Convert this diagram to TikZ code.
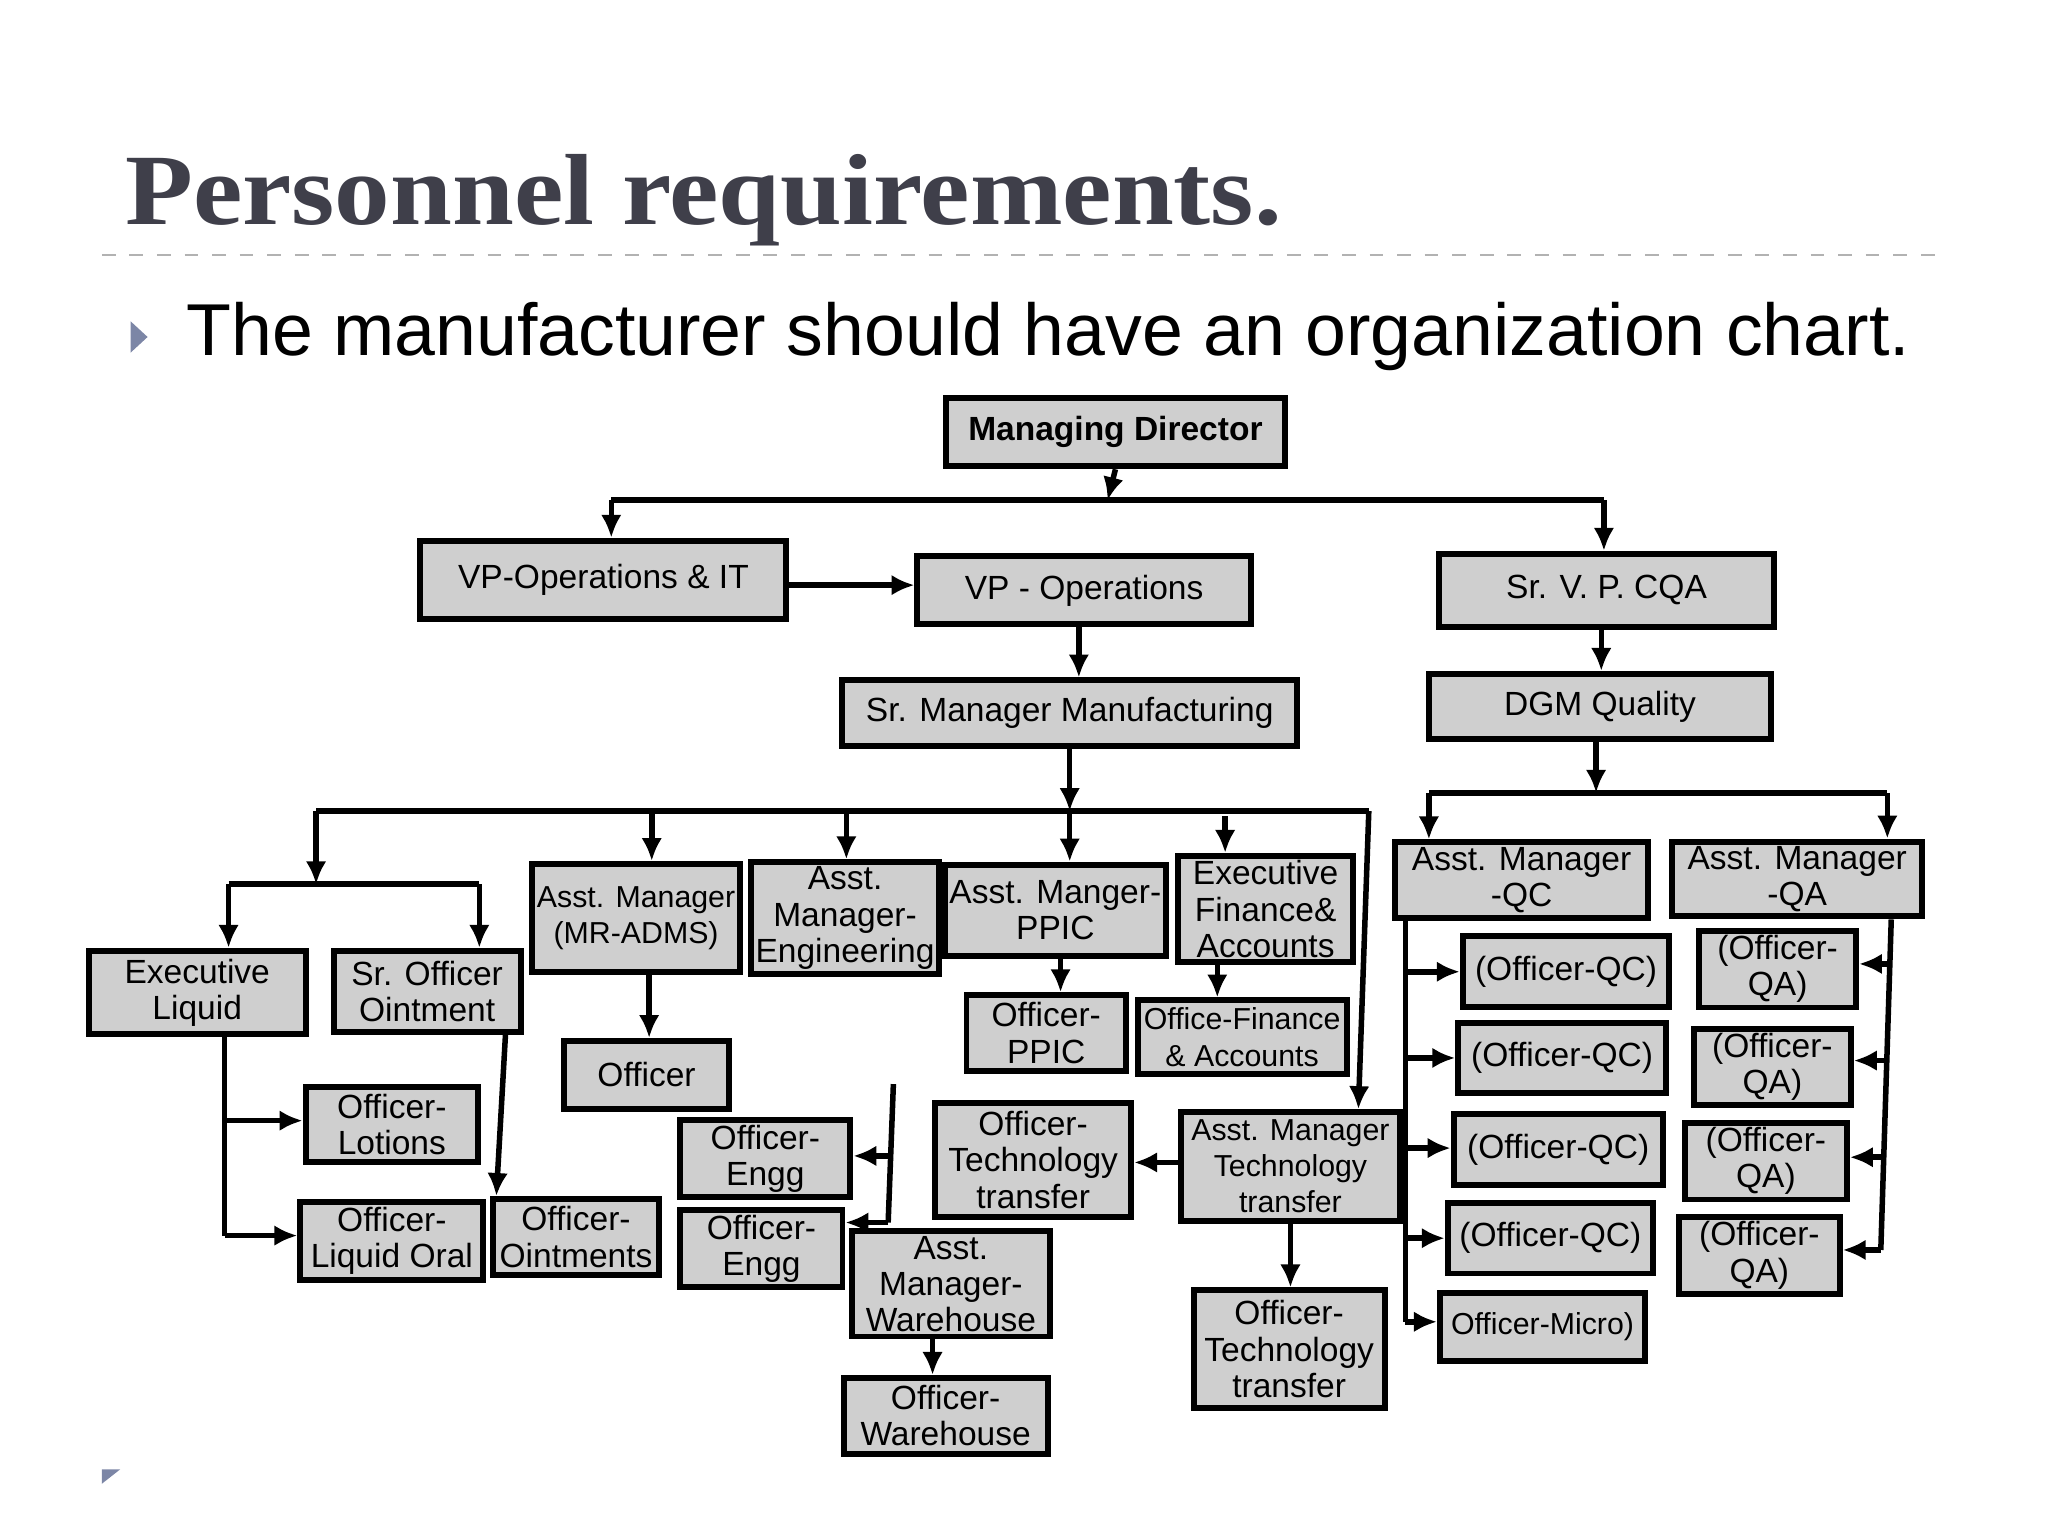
\documentclass[tikz,border=0pt]{standalone}
\usepackage{fontspec}
\setmainfont{Liberation Sans}
\newfontfamily\titlefont{Liberation Serif}
\usetikzlibrary{arrows.meta}
\definecolor{boxg}{HTML}{CFCFCF}
\definecolor{titleg}{HTML}{3F3F4A}
\definecolor{bul}{HTML}{7C86A6}
\tikzset{
 bx/.style={draw, line width=1.3pt, fill=boxg, align=center, font=\fontsize{7.3}{7.9}\selectfont, inner sep=1pt},
 ln/.style={line width=1.2pt},
 ar/.style={line width=1.2pt, -{Latex[length=5pt,width=4.5pt]}},
}
\newcommand{\sm}{\fontsize{6.6}{7.2}\selectfont}
\begin{document}
\begin{tikzpicture}[x=0.01cm,y=-0.01cm]
\useasboundingbox (0,0) rectangle (1568,1176);
\node[anchor=base west, font=\titlefont\bfseries\fontsize{22}{24}\selectfont, text=titleg, inner sep=0, xscale=1.1] (title) at (95,172) {Personnel requirements.};
\draw[dashed, gray!60, line width=0.5pt] (78,195) -- (1490,195);
\fill[bul] (100,246) -- (113,258) -- (100,270) -- cycle;
\node[anchor=base west, font=\fontsize{16}{17}\selectfont, inner sep=0] (sub) at (142,272) {The manufacturer should have an organization chart.};
\fill[bul] (78,1125) -- (92,1125) -- (78,1136) -- cycle;

\node[bx, minimum width=2.6cm, minimum height=0.52cm] (md) at (854,331) {\bfseries Managing Director};
\node[bx, minimum width=2.8cm, minimum height=0.6cm] (vpit) at (462,444) {VP-Operations \& IT};
\node[bx, minimum width=2.55cm, minimum height=0.52cm] (vpo) at (830,452) {VP - Operations};
\node[bx, minimum width=2.56cm, minimum height=0.56cm] (srvp) at (1230,452) {Sr. V. P. CQA};
\node[bx, minimum width=3.48cm, minimum height=0.5cm] (srm) at (819,546) {Sr. Manager Manufacturing};
\node[bx, minimum width=2.62cm, minimum height=0.5cm] (dgm) at (1225,541) {DGM Quality};

\node[bx, minimum width=1.66cm, minimum height=0.64cm] (exl) at (151,760) {Executive\\Liquid};
\node[bx, minimum width=1.43cm, minimum height=0.62cm] (sro) at (327,759) {Sr. Officer\\Ointment};
\node[bx, minimum width=1.58cm, minimum height=0.83cm] (amr) at (487,703) {\sm Asst. Manager\\\sm (MR-ADMS)};
\node[bx, minimum width=1.39cm, minimum height=0.83cm] (ame) at (647,703) {Asst.\\Manager-\\Engineering};
\node[bx, minimum width=1.64cm, minimum height=0.7cm] (amp) at (808,697) {Asst. Manger-\\PPIC};
\node[bx, minimum width=1.34cm, minimum height=0.72cm] (exf) at (969,696) {Executive\\Finance\&\\Accounts};
\node[bx, minimum width=1.26cm, minimum height=0.52cm] (off) at (495,823) {Officer};
\node[bx, minimum width=1.22cm, minimum height=0.58cm] (offp) at (801,791) {Officer-\\PPIC};
\node[bx, minimum width=1.6cm, minimum height=0.56cm] (offf) at (951,794) {\sm Office-Finance\\\sm\& Accounts};
\node[bx, minimum width=1.32cm, minimum height=0.58cm] (offl) at (300,861) {Officer-\\Lotions};
\node[bx, minimum width=1.4cm, minimum height=0.6cm] (offlo) at (300,950) {Officer-\\Liquid Oral};
\node[bx, minimum width=1.27cm, minimum height=0.58cm] (offo) at (441,947) {Officer-\\Ointments};
\node[bx, minimum width=1.3cm, minimum height=0.58cm] (oe1) at (586,887) {Officer-\\Engg};
\node[bx, minimum width=1.24cm, minimum height=0.56cm] (oe2) at (583,956) {Officer-\\Engg};
\node[bx, minimum width=1.52cm, minimum height=0.78cm] (amw) at (728,983) {Asst.\\Manager-\\Warehouse};
\node[bx, minimum width=1.56cm, minimum height=0.58cm] (ow) at (724,1084) {Officer-\\Warehouse};
\node[bx, minimum width=1.5cm, minimum height=0.87cm] (ott1) at (791,888) {Officer-\\Technology\\transfer};
\node[bx, minimum width=1.67cm, minimum height=0.83cm] (amt) at (988,893) {\sm Asst. Manager\\\sm Technology\\\sm transfer};
\node[bx, minimum width=1.46cm, minimum height=0.9cm] (ott2) at (987,1033) {Officer-\\Technology\\transfer};

\node[bx, minimum width=1.94cm, minimum height=0.58cm] (amqc) at (1165,674) {Asst. Manager\\-QC};
\node[bx, minimum width=1.91cm, minimum height=0.56cm] (amqa) at (1376,673) {Asst. Manager\\-QA};
\node[bx, minimum width=1.58cm, minimum height=0.54cm] (qc1) at (1199,744) {(Officer-QC)};
\node[bx, minimum width=1.59cm, minimum height=0.54cm] (qc2) at (1196,810) {(Officer-QC)};
\node[bx, minimum width=1.6cm, minimum height=0.54cm] (qc3) at (1193,880) {(Officer-QC)};
\node[bx, minimum width=1.57cm, minimum height=0.54cm] (qc4) at (1187,948) {(Officer-QC)};
\node[bx, minimum width=1.57cm, minimum height=0.52cm] (mic) at (1181,1016) {\sm Officer-Micro)};
\node[bx, minimum width=1.2cm, minimum height=0.58cm] (qa1) at (1361,742) {(Officer-\\QA)};
\node[bx, minimum width=1.2cm, minimum height=0.56cm] (qa2) at (1357,817) {(Officer-\\QA)};
\node[bx, minimum width=1.24cm, minimum height=0.58cm] (qa3) at (1352,889) {(Officer-\\QA)};
\node[bx, minimum width=1.23cm, minimum height=0.57cm] (qa4) at (1347,961) {(Officer-\\QA)};

% top level
\coordinate (b1) at (848,383);
\draw[ln] (468,383) -- (1228,383);
\draw[ar] (md.south) -- (b1);
\draw[ar] (468,383) -- (468,0|-vpit.north);
\draw[ar] (1228,383) -- (1228,0|-srvp.north);
\draw[ar] (vpit.east|-0,448) -- (vpo.west|-0,448);
\draw[ar] (826,0|-vpo.south) -- (826,0|-srm.north);
\draw[ar] (1226,0|-srvp.south) -- (1226,0|-dgm.north);

% manufacturing bus
\draw[ar] (819,0|-srm.south) -- (819,621);
\draw[ln] (242,621) -- (1048,621);
\draw[ar] (242,621) -- (242,677);
\draw[ln] (175,677) -- (367,677);
\draw[ar] (175,677) -- (175,0|-exl.north);
\draw[ar] (367,677) -- (367,0|-sro.north);
\draw[ar] (499,621) -- (499,0|-amr.north);
\draw[ar] (648,621) -- (648,0|-ame.north);
\draw[ar] (819,621) -- (819,0|-amp.north);
\draw[ar] (938,625) -- (938,0|-exf.north);
\draw[ar] (1048,621) -- (1040,0|-amt.north);
\draw[ar] (497,0|-amr.south) -- (497,0|-off.north);
\draw[ar] (812,0|-amp.south) -- (812,0|-offp.north);
\draw[ar] (932,0|-exf.south) -- (932,0|-offf.north);
\draw[ln] (172,0|-exl.south) -- (172,946);
\draw[ar] (172,858) -- (offl.west|-0,858);
\draw[ar] (172,946) -- (offlo.west|-0,946);
\draw[ar] (387,0|-sro.south) -- (380,0|-offo.north);
\draw[ln] (684,830) -- (680,936);
\draw[ar] (684,885) -- (oe1.east|-0,885);
\draw[ar] (680,936) -- (oe2.east|-0,936);
\draw[ar] (714,0|-amw.south) -- (714,0|-ow.north);
\draw[ar] (amt.west|-0,890) -- (ott1.east|-0,890);
\draw[ar] (988,0|-amt.south) -- (988,0|-ott2.north);

% quality
\draw[ar] (1222,0|-dgm.south) -- (1222,607);
\draw[ln] (1094,607) -- (1445,607);
\draw[ar] (1094,607) -- (1094,0|-amqc.north);
\draw[ar] (1445,607) -- (1445,0|-amqa.north);
\draw[ln] (1076,0|-amqc.south) -- (1076,1012);
\draw[ar] (1076,744) -- (qc1.west|-0,744);
\draw[ar] (1076,810) -- (qc2.west|-0,810);
\draw[ar] (1076,879) -- (qc3.west|-0,879);
\draw[ar] (1076,948) -- (qc4.west|-0,948);
\draw[ar] (1076,1012) -- (mic.west|-0,1012);
\draw[ln] (1448,0|-amqa.south) -- (1440,957);
\draw[ar] (1447,738) -- (qa1.east|-0,738);
\draw[ar] (1445,812) -- (qa2.east|-0,812);
\draw[ar] (1443,886) -- (qa3.east|-0,886);
\draw[ar] (1440,957) -- (qa4.east|-0,957);
\end{tikzpicture}
\end{document}
